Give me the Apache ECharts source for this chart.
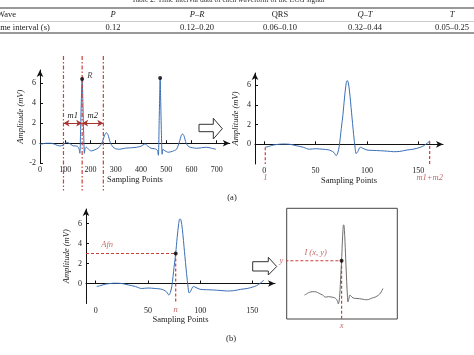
<!DOCTYPE html>
<html><head><meta charset="utf-8">
<script src="https://cdn.jsdelivr.net/npm/echarts@6/dist/echarts.min.js"></script>
<style>html,body{margin:0;padding:0;background:#fff}#c{width:474px;height:355px}</style>
</head><body><div id="c"></div>
<script>
// ---- data ----
const tableCaption = 'Table 2: Time interval data of each waveform of the ECG signal';
const waveNames = ['P', 'P–R', 'QRS', 'Q–T', 'T'];
const waveIntervals = ['0.12', '0.12–0.20', '0.06–0.10', '0.32–0.44', '0.05–0.25'];

// full ECG record (panel a, left)
const fullX = [0, 12, 25, 45, 62, 78, 91, 104, 116, 130, 148, 155, 158, 161, 164, 167, 170, 173, 176, 179, 184, 192, 203, 218, 232, 245, 256, 263, 270, 278, 288, 300, 315, 335, 362, 383, 400, 416, 428, 440, 455, 465, 469, 472, 474, 476, 478, 481, 484, 487, 492, 508, 525, 541, 552, 560, 565, 571, 579, 590, 605, 620, 640, 660, 680, 697];
const fullY = [-0.1, -0.05, 0.0, 0.0, -0.15, -0.27, -0.2, 0.1, 0.0, -0.25, -0.3, -0.6, -1.0, 1.5, 4.5, 6.4, 4.0, 1.0, -1.0, -0.5, -0.4, -0.6, -0.77, -0.65, -0.45, 0.0, 0.8, 1.06, 0.8, 0.1, -0.35, -0.55, -0.6, -0.5, -0.45, -0.4, -0.3, -0.07, -0.3, -0.5, -0.55, -0.7, -1.2, 2.0, 4.5, 6.5, 4.5, 1.0, -1.1, -0.6, -0.7, -0.9, -0.8, -0.6, 0.1, 0.8, 0.93, 0.7, 0.0, -0.35, -0.45, -0.5, -0.45, -0.4, -0.5, -0.6];
const rPeaksX = [167, 476];
const rPeaksY = [6.4, 6.5];
const segStart = 93, segR = 167, segEnd = 251;   // m1 / m2 boundaries
const m1m2Level = 2;

// single heartbeat segment (panels a-right, b)
const segX = [1, 5, 9, 14, 18, 25, 31, 38, 44, 50, 57, 62, 65, 68, 70, 71.5, 73, 75, 76.6, 78, 79.5, 80.5, 81.5, 83, 85, 87, 88.5, 89.5, 91, 93.5, 96, 100, 106, 113, 120, 126, 132, 139, 145, 152, 156, 161];
const segY = [-0.3, -0.2, -0.07, 0.0, 0.03, 0.0, -0.14, -0.3, -0.5, -0.45, -0.5, -0.55, -0.65, -0.85, -1.15, -0.9, -0.2, 1.6, 3.0, 4.6, 6.0, 6.45, 6.4, 5.4, 3.2, 1.0, -0.4, -0.95, -0.75, -0.3, -0.4, -0.58, -0.62, -0.65, -0.7, -0.75, -0.72, -0.58, -0.5, -0.3, -0.1, 0.33];
const nIdx = 76.6, Afn = 3.0;

const fullTicksX = [0, 100, 200, 300, 400, 500, 600, 700];
const fullTicksY = [-2, 0, 2, 4, 6];
const segTicksX = [0, 50, 100, 150];
const segTicksY = [0, 2, 4, 6];

// ---- styles ----
const FONT = 'Liberation Serif';
const BLUE = '#3a6fb7';
const RED = '#cc3f3a';
const REDTXT = '#b2443e';

const zip = (xs, ys) => xs.map((x, i) => [x, ys[i]]);
const full = zip(fullX, fullY);
const seg = zip(segX, segY);

function xAx(gi, min, max, ticks, show, name) {
  return {
    type: 'value', gridIndex: gi, min, max, show,
    name: name || '', nameLocation: 'middle', nameGap: 12,
    nameTextStyle: {fontFamily: FONT, fontSize: 8.5, color: '#222'},
    axisLine: {show: true, lineStyle: {color: '#111', width: 1}, symbol: ['none', 'arrow'], symbolSize: [5, 7]},
    axisTick: {show: true, inside: true, length: 3, customValues: ticks, lineStyle: {color: '#111'}},
    axisLabel: {show: true, customValues: ticks, margin: 3, fontFamily: FONT, fontSize: 8, color: '#222'},
    splitLine: {show: false}
  };
}
function yAx(gi, min, max, ticks, show, name) {
  return {
    type: 'value', gridIndex: gi, min, max, show,
    name: name || '', nameLocation: 'middle', nameGap: 15, nameRotate: 90,
    nameTextStyle: {fontFamily: FONT, fontSize: 8.5, color: '#222', fontStyle: 'italic'},
    axisLine: {show: true, onZero: false, lineStyle: {color: '#111', width: 1}, symbol: ['none', 'arrow'], symbolSize: [5, 7]},
    axisTick: {show: true, inside: true, length: 3, customValues: ticks, lineStyle: {color: '#111'}},
    axisLabel: {show: true, customValues: ticks, margin: 4, fontFamily: FONT, fontSize: 8, color: '#222'},
    splitLine: {show: false}
  };
}
function lineS(gi, data, color, type, extra) {
  return Object.assign({
    type: 'line', xAxisIndex: gi, yAxisIndex: gi, data, symbol: 'none', clip: false, silent: true,
    color: color, itemStyle: {color: color},
    lineStyle: {color: color, width: 1, type: type || 'solid', opacity: 1}, animation: false, z: 3
  }, extra || {});
}
function textPt(gi, pt, text, label) {
  return {
    type: 'scatter', xAxisIndex: gi, yAxisIndex: gi, data: [pt], symbolSize: 0.1, clip: false, silent: true,
    itemStyle: {color: 'rgba(0,0,0,0)'}, animation: false,
    label: Object.assign({show: true, formatter: text, fontFamily: FONT, fontSize: 8.5, fontStyle: 'italic', color: REDTXT}, label)
  };
}
const redDash = (gi, data, dash, z) => lineS(gi, data, RED, dash, {z: z || 5, lineStyle: {color: RED, width: 1.2, type: dash}});

const series = [];
// panel a-left
series.push(lineS(0, full, BLUE, 'solid', {smooth: 0.25, z: 4}));
[segStart, segR, segEnd].forEach(v => series.push(redDash(0, [[v, 8.7], [v, -4.7]], [4, 2, 1.5, 2])));
series.push({
  type: 'scatter', xAxisIndex: 0, yAxisIndex: 0, data: zip(rPeaksX, rPeaksY), symbolSize: 4, animation: false,
  itemStyle: {color: '#000'}, z: 6,
  label: {show: true, formatter: p => p.dataIndex === 0 ? 'R' : '', position: 'right', distance: 3, offset: [0, -3],
          fontFamily: FONT, fontSize: 8.5, fontStyle: 'italic', color: '#111'},
  markLine: {
    silent: true, animation: false, symbol: ['arrow', 'arrow'], symbolSize: [5, 6],
    lineStyle: {color: '#a53530', width: 1, type: 'solid'},
    label: {show: true, position: 'middle', distance: 3, fontFamily: FONT, fontSize: 8.5, fontStyle: 'italic', color: '#222', formatter: p => p.name},
    data: [
      [{name: 'm1', coord: [segStart, m1m2Level]}, {coord: [segR, m1m2Level]}],
      [{name: 'm2', coord: [segR, m1m2Level]}, {coord: [segEnd, m1m2Level]}]
    ]
  }
});
// panel a-right
series.push(lineS(1, seg, BLUE, 'solid', {smooth: 0.3, z: 4}));
series.push(redDash(1, [[segX[0], segY[0]], [segX[0], -2]], [3, 2]));
series.push(redDash(1, [[segX[segX.length - 1], segY[segY.length - 1]], [segX[segX.length - 1], -2]], [3, 2]));
series.push(textPt(1, [segX[0], -2], '1', {position: 'bottom', distance: 9}));
series.push(textPt(1, [segX[segX.length - 1], -2], 'm1+m2', {position: 'bottom', distance: 9}));
// panel b-left
series.push(lineS(2, seg, BLUE, 'solid', {smooth: 0.3, z: 4}));
series.push(redDash(2, [[-9.3, Afn], [nIdx, Afn]], [3, 2]));
series.push(redDash(2, [[nIdx, Afn], [nIdx, -2]], [3, 2]));
series.push({type: 'scatter', xAxisIndex: 2, yAxisIndex: 2, data: [[nIdx, Afn]], symbolSize: 4, itemStyle: {color: '#000'}, z: 6, animation: false});
series.push(textPt(2, [11, Afn], 'Afn', {position: 'top', distance: 4}));
series.push(textPt(2, [nIdx, -2], 'n', {position: 'bottom', distance: 2}));
// panel b-right (box)
series.push(lineS(3, seg, '#6e6e6e', 'solid', {smooth: 0.3, z: 4}));
series.push(redDash(3, [[-38, Afn], [nIdx, Afn]], [3, 2]));
series.push(redDash(3, [[nIdx, Afn], [nIdx, -2.6]], [3, 2]));
series.push({type: 'scatter', xAxisIndex: 3, yAxisIndex: 3, data: [[nIdx, Afn]], symbolSize: 4, itemStyle: {color: '#000'}, z: 6, animation: false,
  label: {show: true, formatter: 'I (x, y)', position: 'inside', offset: [-26, -8], fontFamily: FONT, fontSize: 8.5, fontStyle: 'italic', color: REDTXT}});
series.push(textPt(3, [-38, Afn], 'y', {position: 'left', distance: 2}));
series.push(textPt(3, [nIdx, -2.6], 'x', {position: 'bottom', distance: 2}));

// table graphic
const colX = [113, 197, 280, 365, 452];
const g = [];
g.push({type: 'text', x: 228, y: 0, style: {text: tableCaption, font: '7.5px ' + FONT, fill: '#333', align: 'center', verticalAlign: 'middle'}});
g.push({type: 'line', shape: {x1: 0, y1: 8, x2: 474, y2: 8}, style: {stroke: '#777', lineWidth: 1.5}});
g.push({type: 'line', shape: {x1: 0, y1: 21.5, x2: 474, y2: 21.5}, style: {stroke: '#aaa', lineWidth: 0.6}});
g.push({type: 'line', shape: {x1: 0, y1: 33, x2: 474, y2: 33}, style: {stroke: '#777', lineWidth: 1.5}});
g.push({type: 'text', x: -3, y: 15, style: {text: 'Wave', font: '8.5px ' + FONT, fill: '#222', verticalAlign: 'middle'}});
g.push({type: 'text', x: -7, y: 28, style: {text: 'Time interval (s)', font: '8.5px ' + FONT, fill: '#222', verticalAlign: 'middle'}});
waveNames.forEach((w, i) => g.push({type: 'text', x: colX[i], y: 15, style: {text: w, font: (w === 'QRS' ? '' : 'italic ') + '8.5px ' + FONT, fill: '#222', align: 'center', verticalAlign: 'middle'}}));
waveIntervals.forEach((w, i) => g.push({type: 'text', x: colX[i], y: 28, style: {text: w, font: '8.5px ' + FONT, fill: '#222', align: 'center', verticalAlign: 'middle'}}));
// block arrows
g.push({type: 'polygon', shape: {points: [[199, 124.3], [213.3, 124.3], [213.3, 118.3], [222.3, 128.7], [213.3, 139], [213.3, 131.7], [199, 131.7]]}, style: {fill: '#fff', stroke: '#333', lineWidth: 1}});
g.push({type: 'polygon', shape: {points: [[252.7, 261.7], [268.3, 261.7], [268.3, 257.3], [276.7, 266.5], [268.3, 275], [268.3, 271], [252.7, 271]]}, style: {fill: '#fff', stroke: '#333', lineWidth: 1}});
// sub-figure captions
g.push({type: 'text', x: 232, y: 198, style: {text: '(a)', font: '8.5px ' + FONT, fill: '#222', align: 'center', verticalAlign: 'middle'}});
g.push({type: 'text', x: 231, y: 339, style: {text: '(b)', font: '8.5px ' + FONT, fill: '#222', align: 'center', verticalAlign: 'middle'}});

const chart = echarts.init(document.getElementById('c'), null, {renderer: 'canvas'});
chart.setOption({
  animation: false,
  backgroundColor: '#fff',
  grid: [
    {left: 40, top: 70, width: 189.8, height: 93.3},
    {left: 255, top: 73, width: 188, height: 91},
    {left: 86, top: 209, width: 189, height: 94.5},
    {left: 286.7, top: 208.3, width: 110.6, height: 110.7, show: true, borderColor: '#444', borderWidth: 1, backgroundColor: 'transparent'}
  ],
  xAxis: [
    xAx(0, 0, 752, fullTicksX, true, 'Sampling Points'),
    xAx(1, -9, 174, segTicksX, true, 'Sampling Points'),
    xAx(2, -9.3, 171.7, segTicksX, true, 'Sampling Points'),
    Object.assign(xAx(3, -35.3, 190.2, [], false), {show: false})
  ],
  yAxis: [
    yAx(0, -2, 7.3, fullTicksY, true, 'Amplitude (mV)'),
    yAx(1, -2, 7.24, segTicksY, true, 'Amplitude (mV)'),
    yAx(2, -2, 7.45, segTicksY, true, 'Amplitude (mV)'),
    Object.assign(yAx(3, -2.6, 8.04, [], false), {show: false})
  ],
  series,
  graphic: g
});
</script></body></html>
